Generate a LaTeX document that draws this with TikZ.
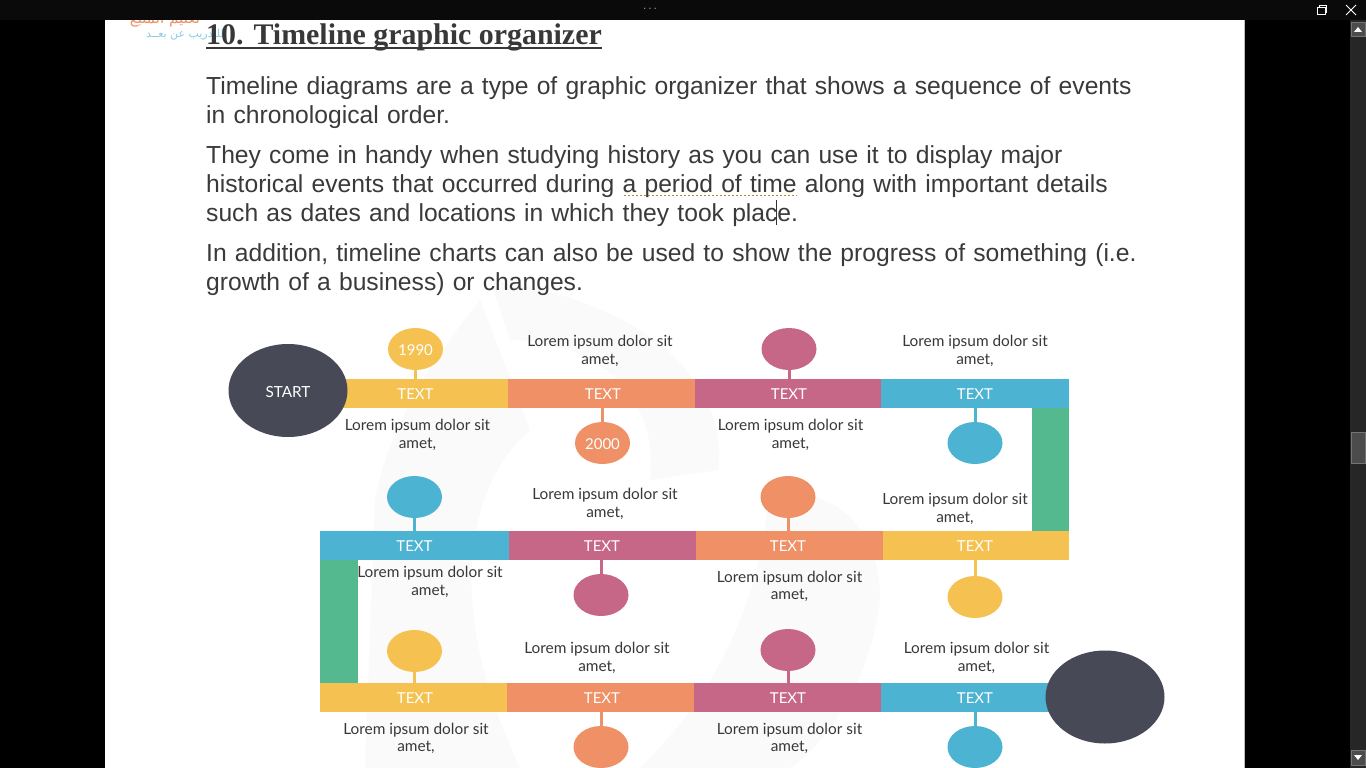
\documentclass[tikz,border=0pt]{standalone}
\usepackage{fontspec}
\setmainfont{Liberation Sans}
\newfontfamily\headfont{Liberation Serif}
\newfontfamily\chartfont{Lato}
\newfontfamily\arabicfont[Script=Arabic]{DejaVu Sans}
\TeXXeTstate=1
\usetikzlibrary{positioning,shapes.geometric,calc}
\definecolor{barYellow}{HTML}{F5C251}
\definecolor{barOrange}{HTML}{EF9066}
\definecolor{barPink}{HTML}{C76788}
\definecolor{barBlue}{HTML}{4DB3D3}
\definecolor{barGreen}{HTML}{55B98F}
\definecolor{discDark}{HTML}{474A56}
\definecolor{bodyInk}{HTML}{3A3A3A}
\definecolor{markInk}{HTML}{B08A2E}
\tikzset{
  seg/.style={rectangle,fill=#1,text=white,minimum height=29pt,inner sep=0pt,text height=12.8pt,text depth=0pt,
    font=\chartfont\fontsize{15}{15}\selectfont},
  disc/.style={ellipse,fill=#1,text=white,minimum width=55pt,minimum height=42pt,inner sep=0pt,text height=12.8pt,text depth=0pt,
    font=\chartfont\fontsize{15}{15}\selectfont},
  bigdisc/.style={ellipse,fill=discDark,text=white,minimum width=119pt,minimum height=93pt,inner sep=0pt,text height=13pt,text depth=0pt,
    font=\chartfont\fontsize{15.3}{15.3}\selectfont},
  stem/.style={line width=3pt,draw=#1},
  note/.style={align=center,text=black!78,inner sep=0pt,
    font=\chartfont\fontsize{15.4}{17.5}\selectfont},
  para/.style={anchor=north west,align=left,inner sep=0pt,text=bodyInk,text width=960pt,
    font=\fontsize{24.65}{29.2}\selectfont},
}
\begin{document}
\begin{tikzpicture}[x=1pt,y=-1pt]
  \useasboundingbox (0,0) rectangle (1366,768);
  % window and page
  \fill[black] (0,0) rectangle (1366,768);
  \fill[white] (105,20) rectangle (1244,768);
  \fill[black!25] (1244,20) rectangle (1245,768);
  \fill[black!96] (0,0) rectangle (1366,20);
  % watermark behind the chart
  \fill[black!2] (490,280) .. controls (640,300) and (730,380) .. (718,470) -- (650,480) .. controls (660,400) and (600,340) .. (510,340) -- cycle;
  \fill[black!2] (365,768) -- (375,500) .. controls (390,420) and (440,350) .. (480,300) -- (530,430) .. controls (470,480) and (440,600) .. (520,768) -- cycle;
  \fill[black!2] (640,768) .. controls (720,690) and (760,600) .. (770,490) .. controls (830,490) and (880,520) .. (880,600) .. controls (870,680) and (830,740) .. (790,768) -- cycle;
  % logo
  \node[anchor=center,inner sep=0pt,text=barOrange,font=\arabicfont\fontsize{15}{15}\selectfont] (logoa) at (165,20) {\beginR تعليم المتبع\endR};
  \node[anchor=center,inner sep=0pt,text=barBlue!65,font=\arabicfont\fontsize{11}{11}\selectfont] (logob) at (185,35) {\beginR للتدريب عن بعــد\endR};
  \fill[black!96] (105,0) rectangle (300,20);
  % text block
  \node[anchor=base west,inner sep=0pt,text=black!78,font=\headfont\bfseries\fontsize{29.9}{30}\selectfont] (title) at (206,45) {10. Timeline graphic organizer};
  \draw[black!78,line width=1.5pt] ($(title.base west)+(0,3)$) -- ($(title.base east)+(0,3)$);
  \node[para] (p1) at (206,76) {Timeline diagrams are a type of graphic organizer that shows a sequence of events\\in chronological order.};
  \node[para] (p2) at (206,145) {They come in handy when studying history as you can use it to display major\\historical events that occurred during a period of time along with important details\\such as dates and locations in which they took place.};
  \node[para] (p3) at (206,243) {In addition, timeline charts can also be used to show the progress of something (i.e.\\growth of a business) or changes.};
  \draw[markInk,dash pattern=on 2.4pt off 1.6pt,line width=1.8pt] (624,195.5) -- (797,195.5);
  \draw[black!80,line width=.8pt] (776,200) -- (776,225);
  % green links
  \fill[barGreen] (1032,408) rectangle (1069,531);
  \fill[barGreen] (320,560) rectangle (358,683);
  % row 1
  \node[seg=barYellow,minimum width=168pt] (s11) at (424,393.5) {\hspace*{-17pt}TEXT};
  \node[seg=barOrange,minimum width=187pt] (s12) at (601.5,393.5) {\hspace*{3pt}TEXT};
  \node[seg=barPink,minimum width=186pt] (s13) at (788,393.5) {\hspace*{2pt}TEXT};
  \node[seg=barBlue,minimum width=188pt] (s14) at (975,393.5) {TEXT};
  % row 2
  \node[seg=barBlue,minimum width=189pt] (s21) at (414.5,545.5) {TEXT};
  \node[seg=barPink,minimum width=187pt] (s22) at (602.5,545.5) {\hspace*{-1pt}TEXT};
  \node[seg=barOrange,minimum width=187pt] (s23) at (789.5,545.5) {\hspace*{-3pt}TEXT};
  \node[seg=barYellow,minimum width=186pt] (s24) at (976,545.5) {\hspace*{-2pt}TEXT};
  % row 3
  \node[seg=barYellow,minimum width=187pt] (s31) at (413.5,697.5) {\hspace*{3pt}TEXT};
  \node[seg=barOrange,minimum width=187pt] (s32) at (600.5,697.5) {\hspace*{3pt}TEXT};
  \node[seg=barPink,minimum width=187pt] (s33) at (787.5,697.5) {\hspace*{1pt}TEXT};
  \node[seg=barBlue,minimum width=180pt] (s34) at (971,697.5) {\hspace*{8pt}TEXT};
  % big discs
  \node[bigdisc] (start) at (288,390.5) {START};
  \node[bigdisc] (finish) at (1105,697) {};
  % small discs
  \node[disc=barYellow] (c11) at (415.5,349) {1990};
  \node[disc=barOrange] (c12) at (602.5,443) {2000};
  \node[disc=barPink] (c13) at (789,349) {};
  \node[disc=barBlue] (c14) at (975,443) {};
  \node[disc=barBlue] (c21) at (414.5,497) {};
  \node[disc=barPink] (c22) at (601,595) {};
  \node[disc=barOrange] (c23) at (788,497) {};
  \node[disc=barYellow] (c24) at (975,597) {};
  \node[disc=barYellow] (c31) at (414.5,651) {};
  \node[disc=barOrange] (c32) at (601,747) {};
  \node[disc=barPink] (c33) at (788,650) {};
  \node[disc=barBlue] (c34) at (975,747) {};
  % stems
  \draw[stem=barYellow] (c11) -- (c11 |- s11.north);
  \draw[stem=barOrange] (c12) -- (c12 |- s12.south);
  \draw[stem=barPink] (c13) -- (c13 |- s13.north);
  \draw[stem=barBlue] (c14) -- (c14 |- s14.south);
  \draw[stem=barBlue] (c21) -- (c21 |- s21.north);
  \draw[stem=barPink] (c22) -- (c22 |- s22.south);
  \draw[stem=barOrange] (c23) -- (c23 |- s23.north);
  \draw[stem=barYellow] (c24) -- (c24 |- s24.south);
  \draw[stem=barYellow] (c31) -- (c31 |- s31.north);
  \draw[stem=barOrange] (c32) -- (c32 |- s32.south);
  \draw[stem=barPink] (c33) -- (c33 |- s33.north);
  \draw[stem=barBlue] (c34) -- (c34 |- s34.south);
  % notes
  \node[note] (n12) at (600,351) {Lorem ipsum dolor sit\\amet,};
  \node[note] (n14) at (975,351) {Lorem ipsum dolor sit\\amet,};
  \node[note] (n11) at (417.5,435) {Lorem ipsum dolor sit\\amet,};
  \node[note] (n13) at (790.5,435) {Lorem ipsum dolor sit\\amet,};
  \node[note] (n22) at (605,504) {Lorem ipsum dolor sit\\amet,};
  \node[note] (n24) at (955,509) {Lorem ipsum dolor sit\\amet,};
  \node[note] (n21) at (430,582) {Lorem ipsum dolor sit\\amet,};
  \node[note] (n23) at (789.5,586.5) {Lorem ipsum dolor sit\\amet,};
  \node[note] (n32) at (597,658) {Lorem ipsum dolor sit\\amet,};
  \node[note] (n34) at (976.5,658) {Lorem ipsum dolor sit\\amet,};
  \node[note] (n31) at (416,738.5) {Lorem ipsum dolor sit\\amet,};
  \node[note] (n33) at (789.5,738.5) {Lorem ipsum dolor sit\\amet,};
  % scroll bar
  \fill[black!85] (1350,20) rectangle (1366,768);
  \fill[black!70,draw=black!55] (1351,22) rectangle (1365,36);
  \fill[black!70,draw=black!55] (1351,432) rectangle (1365,463);
  \fill[black!70,draw=black!55] (1351,750) rectangle (1365,765);
  \fill[white] (1354,32) -- (1358,27) -- (1362,32) -- cycle;
  \fill[white] (1354,755) -- (1358,760) -- (1362,755) -- cycle;
  % title bar icons
  \node[anchor=base,inner sep=0pt,text=black!40,font=\fontsize{12}{12}\selectfont] (dots) at (650,10) {.\,.\,.};
  \draw[white,line width=.8pt] (1317.5,7.5) rectangle (1325.5,14.5);
  \draw[white,line width=.8pt] (1319.5,7.5) -- (1319.5,5.5) -- (1326.5,5.5) -- (1326.5,12.5) -- (1325.5,12.5);
  \draw[white,line width=1pt] (1346,5) -- (1356,15) (1356,5) -- (1346,15);
\end{tikzpicture}
\end{document}
